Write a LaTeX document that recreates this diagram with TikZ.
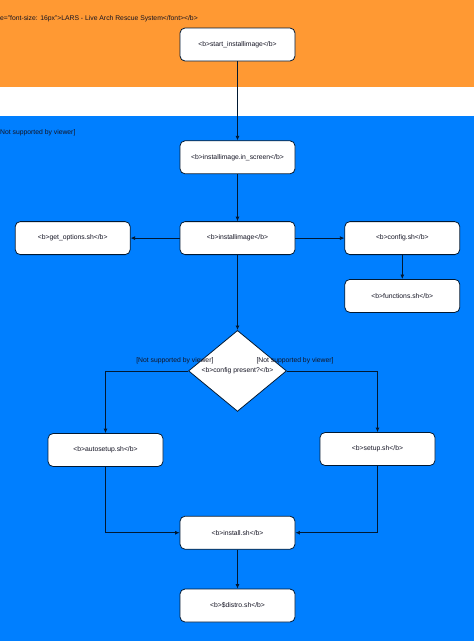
\documentclass[tikz,border=0pt]{standalone}
\usepackage{fontspec}
\setmainfont{Liberation Sans}
\usetikzlibrary{arrows.meta,positioning,shapes.geometric}
\definecolor{laneorange}{RGB}{255,153,51}
\definecolor{laneblue}{RGB}{0,127,255}
\definecolor{linenavy}{RGB}{0,25,51}
\definecolor{textdark}{RGB}{20,20,35}

\begin{document}
\begin{tikzpicture}[x=1pt,y=-1pt,font=\fontsize{6.8}{8}\selectfont,text=textdark,
   node distance=47pt and 49pt,
   st/.style={draw=linenavy,fill=white,rounded corners=5pt,line width=0.8pt,
              minimum width=115pt,minimum height=33pt,inner sep=0pt,align=center},
   ask/.style={diamond,draw=linenavy,fill=white,line width=0.8pt,aspect=1.2,
               minimum width=98pt,minimum height=81pt,inner sep=0pt},
   go/.style={draw=linenavy,line width=0.8pt,-{Latex[length=4.5pt,width=4pt]}},
   tag/.style={inner sep=0pt,text=textdark}]
  \useasboundingbox (0,0) rectangle (474,641);
  % lanes
  \fill[laneorange] (0,0) rectangle (474,87);
  \fill[laneblue] (0,116) rectangle (474,641);
  \node[tag,anchor=west] (lanetitle) at (0,19) {e="font-size: 16px">LARS - Live Arch Rescue System</font></b>};
  \node[tag,anchor=west] (lanenote) at (0,133) {Not supported by viewer]};

  \node[st] (start) at (237.5,44.5) {<b>start\_installimage</b>};
  \node[st,below=79pt of start] (inscreen) {<b>installimage.in\_screen</b>};
  \node[st,below=of inscreen] (inst) {<b>installimage</b>};
  \node[st,left=of inst] (getopt) {<b>get\_options.sh</b>};
  \node[st,right=of inst] (config) {<b>config.sh</b>};
  \node[st,below=24pt of config] (funcs) {<b>functions.sh</b>};
  \node[ask,below=75pt of inst] (present) {<b>config present?</b>};
  \node[st] (auto) at (105.5,450) {<b>autosetup.sh</b>};
  \node[st] (setup) at (377.5,449) {<b>setup.sh</b>};
  \node[st,below=104pt of present] (install) {<b>install.sh</b>};
  \node[st,below=39pt of install] (distro) {<b>\$distro.sh</b>};

  \draw[go] (start) -- (inscreen);
  \draw[go] (inscreen) -- (inst);
  \draw[go] (inst) -- (getopt);
  \draw[go] (inst) -- (config);
  \draw[go] (config) -- (funcs);
  \draw[go] (inst) -- (present);
  \draw[go] (present.west) -| (auto.north)
     node[tag,pos=0.08,above=7pt] {[Not supported by viewer]};
  \draw[go] (present.east) -| (setup.north)
     node[tag,pos=0.045,above=7pt] {[Not supported by viewer]};
  \draw[go] (auto.south) |- (install.west);
  \draw[go] (setup.south) |- (install.east);
  \draw[go] (install) -- (distro);
\end{tikzpicture}
\end{document}
